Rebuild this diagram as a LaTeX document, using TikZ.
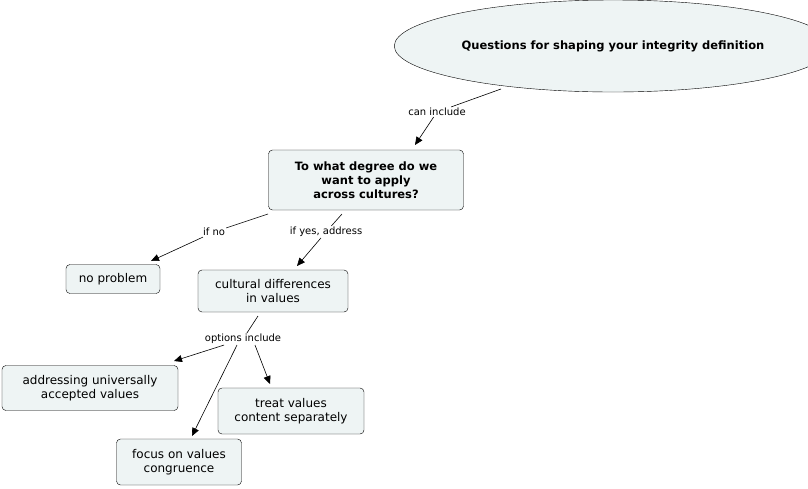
\documentclass[tikz,border=0pt]{standalone}
\usepackage{fontspec}
\setmainfont{DejaVu Sans}
\usetikzlibrary{shapes.geometric,arrows.meta}
\definecolor{boxfill}{HTML}{EEF4F4}
\begin{document}
\begin{tikzpicture}[x=1pt,y=-1pt,
  cbox/.style={draw,rounded corners=4pt,fill=boxfill,align=center,font=\fontsize{12}{14}\selectfont,inner sep=4pt},
  lbl/.style={font=\fontsize{10}{12}\selectfont,fill=white,inner sep=1pt},
  conn/.style={-{Triangle[length=8pt,width=7pt]},line width=0.6pt},
  seg/.style={line width=0.6pt}]
\useasboundingbox (0,0) rectangle (808,488);
\node[draw,ellipse,fill=boxfill,minimum width=384pt,minimum height=92pt,font=\bfseries\fontsize{11.5}{14}\selectfont] (q) at (613,46) {Questions for shaping your integrity definition};
\node[cbox,font=\bfseries\fontsize{11.5}{14}\selectfont,minimum width=195pt,minimum height=60pt] (deg) at (366,180) {To what degree do we\\want to apply\\across cultures?};
\node[cbox,minimum width=94pt,minimum height=29pt] (np) at (113,279) {no problem};
\node[cbox,minimum width=150pt,minimum height=42pt] (cd) at (273,291) {cultural differences\\in values};
\node[cbox,minimum width=176pt,minimum height=45pt] (ad) at (90,388) {addressing universally\\accepted values};
\node[cbox,minimum width=146pt,minimum height=46pt] (tv) at (291,411) {treat values\\content separately};
\node[cbox,minimum width=125pt,minimum height=46pt] (fv) at (179,462) {focus on values\\congruence};
\node[lbl] (l1) at (437,112) {can include};
\node[lbl] (l2) at (214,232) {if no};
\node[lbl] (l3) at (326,232) {if yes, address};
\node[lbl] (l4) at (243,339) {options include};
\draw[seg] (501,89) -- (l1);
\draw[conn] (l1) -- (415,145);
\draw[seg] (268,214) -- (l2);
\draw[conn] (l2) -- (151,261);
\draw[seg] (342,214) -- (l3);
\draw[conn] (l3) -- (297,266);
\draw[seg] (258,316) -- (l4);
\draw[conn] (l4) -- (174,361);
\draw[conn] (l4.south) ++(12,0) -- (270,384);
\draw[conn] (l4.south) ++(-6,0) -- (192,436);
\end{tikzpicture}
\end{document}
